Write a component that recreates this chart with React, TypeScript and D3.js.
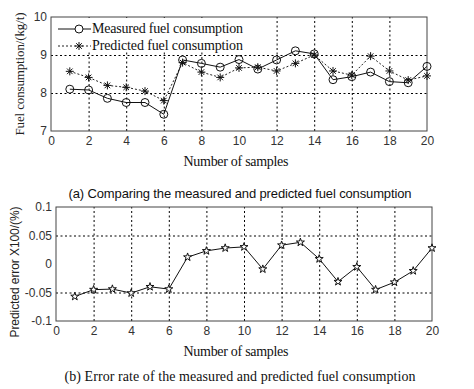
import React, { useEffect, useRef } from 'react';
import * as d3 from 'd3';

const samples = [1, 2, 3, 4, 5, 6, 7, 8, 9, 10, 11, 12, 13, 14, 15, 16, 17, 18, 19, 20];
const measured = [8.1, 8.08, 7.86, 7.75, 7.75, 7.44, 8.87, 8.78, 8.68, 8.88, 8.63, 8.87, 9.11, 9.03, 8.35, 8.43, 8.55, 8.3, 8.27, 8.7];
const predicted = [8.57, 8.41, 8.2, 8.15, 8.05, 7.8, 8.8, 8.55, 8.41, 8.66, 8.68, 8.58, 8.78, 9.0, 8.58, 8.47, 8.97, 8.58, 8.34, 8.45];
const errorRate = [-0.057, -0.045, -0.044, -0.051, -0.04, -0.044, 0.012, 0.023, 0.028, 0.03, -0.009, 0.033, 0.038, 0.009, -0.031, -0.005, -0.045, -0.032, -0.012, 0.028];

const xTicks = [0, 2, 4, 6, 8, 10, 12, 14, 16, 18, 20];
const fuelTicks = [7, 8, 9, 10];
const errTicks = [-0.1, -0.05, 0, 0.05, 0.1];

const SANS = '"Liberation Sans", Arial, sans-serif';
const SERIF = '"Liberation Serif", "Times New Roman", serif';

export default function App() {
  const ref = useRef<SVGSVGElement>(null);

  useEffect(() => {
    const svg = d3.select(ref.current);
    svg.selectAll('*').remove();

    const panel = (
      left: number, right: number, top: number, bottom: number,
      yDomain: [number, number], yTicks: number[], fmt: (d: number) => string
    ) => {
      const x = d3.scaleLinear().domain([0, 20]).range([left, right]);
      const y = d3.scaleLinear().domain(yDomain).range([bottom, top]);
      const g = svg.append('g');

      const xa = g.append('g').attr('transform', `translate(0,${bottom})`)
        .call(d3.axisBottom(x).tickValues(xTicks).tickSize(-(bottom - top)).tickPadding(5).tickFormat(d => String(d)));
      const ya = g.append('g').attr('transform', `translate(${left},0)`)
        .call(d3.axisLeft(y).tickValues(yTicks).tickSize(-(right - left)).tickPadding(4).tickFormat(d => fmt(+d)));
      [xa, ya].forEach(a => {
        a.select('.domain').remove();
        a.selectAll('line').attr('stroke', '#000').attr('stroke-dasharray', '2,2.5').attr('stroke-width', 1)
          .filter((d: any) => d === 0 || d === 20 || d === yDomain[0] || d === yDomain[1]).remove();
        a.selectAll('text').attr('font-family', SANS).attr('font-size', 12).attr('fill', '#333');
      });
      g.append('rect').attr('x', left).attr('y', top).attr('width', right - left).attr('height', bottom - top)
        .attr('fill', 'none').attr('stroke', '#444').attr('stroke-width', 1);
      return { x, y, g };
    };

    // (a) fuel consumption
    const a = panel(51, 427, 17, 131, [7, 10], fuelTicks, d => String(d));
    const lineA = d3.line<number>().x((_, i) => a.x(samples[i])).y(d => a.y(d));
    a.g.append('path').attr('d', lineA(predicted)).attr('fill', 'none').attr('stroke', '#222')
      .attr('stroke-width', 1).attr('stroke-dasharray', '2,2');
    a.g.append('path').attr('d', lineA(measured)).attr('fill', 'none').attr('stroke', '#111').attr('stroke-width', 1);

    const asterisk = (sel: any, cx: number, cy: number, r: number) => {
      const p = `M${cx - r},${cy}H${cx + r}M${cx},${cy - r}V${cy + r}` +
        `M${cx - r * 0.7},${cy - r * 0.7}L${cx + r * 0.7},${cy + r * 0.7}M${cx - r * 0.7},${cy + r * 0.7}L${cx + r * 0.7},${cy - r * 0.7}`;
      sel.append('path').attr('d', p).attr('stroke', '#111').attr('stroke-width', 1).attr('fill', 'none');
    };

    predicted.forEach((v, i) => asterisk(a.g, a.x(samples[i]), a.y(v), 4));
    a.g.selectAll('circle.m').data(measured).join('circle').attr('class', 'm')
      .attr('cx', (_, i) => a.x(samples[i])).attr('cy', d => a.y(d)).attr('r', 4)
      .attr('fill', 'none').attr('stroke', '#111').attr('stroke-width', 1);

    // legend (white box, no border, covers the grid)
    const lg = a.g.append('g');
    lg.append('rect').attr('x', 52).attr('y', 18).attr('width', 194).attr('height', 34).attr('fill', 'white');
    lg.append('line').attr('x1', 58).attr('x2', 91).attr('y1', 29).attr('y2', 29).attr('stroke', '#111');
    lg.append('circle').attr('cx', 79).attr('cy', 29).attr('r', 4).attr('fill', 'white').attr('stroke', '#111');
    lg.append('text').attr('x', 92).attr('y', 33).text('Measured fuel consumption')
      .attr('font-family', SERIF).attr('font-size', 14).attr('textLength', 151).attr('fill', '#111');
    lg.append('line').attr('x1', 58).attr('x2', 91).attr('y1', 46).attr('y2', 46).attr('stroke', '#222')
      .attr('stroke-dasharray', '2,2');
    asterisk(lg, 79, 46, 4);
    lg.append('text').attr('x', 92).attr('y', 50).text('Predicted fuel consumption')
      .attr('font-family', SERIF).attr('font-size', 14).attr('textLength', 151).attr('fill', '#111');

    svg.append('text').attr('transform', 'translate(24,74) rotate(-90)').attr('text-anchor', 'middle')
      .attr('font-family', SERIF).attr('font-size', 13).attr('fill', '#222').attr('textLength', 123)
      .text('Fuel consumption/(kg/t)');
    svg.append('text').attr('x', 236).attr('y', 166).attr('text-anchor', 'middle')
      .attr('font-family', SERIF).attr('font-size', 14).attr('fill', '#111').attr('textLength', 105)
      .text('Number of samples');
    svg.append('text').attr('x', 240).attr('y', 198).attr('text-anchor', 'middle')
      .attr('font-family', SANS).attr('font-size', 13).attr('fill', '#111').attr('textLength', 343)
      .text('(a)  Comparing the measured and predicted fuel consumption');

    // (b) error rate
    const b = panel(56, 432, 207, 321, [-0.1, 0.1], errTicks, d => String(d));
    const lineB = d3.line<number>().x((_, i) => b.x(samples[i])).y(d => b.y(d));
    b.g.append('path').attr('d', lineB(errorRate)).attr('fill', 'none').attr('stroke', '#111').attr('stroke-width', 1);
    const star = d3.symbol().type(d3.symbolStar).size(20);
    b.g.selectAll('path.s').data(errorRate).join('path').attr('class', 's')
      .attr('transform', (d, i) => `translate(${b.x(samples[i])},${b.y(d)})`)
      .attr('d', star()).attr('fill', 'white').attr('stroke', '#111').attr('stroke-width', 1);

    svg.append('text').attr('transform', 'translate(19,272) rotate(-90)').attr('text-anchor', 'middle')
      .attr('font-family', SANS).attr('font-size', 12).attr('fill', '#222').attr('textLength', 131)
      .text('Predicted error X100/(%)');
    svg.append('text').attr('x', 236).attr('y', 356).attr('text-anchor', 'middle')
      .attr('font-family', SERIF).attr('font-size', 14).attr('fill', '#111').attr('textLength', 105)
      .text('Number of samples');
    svg.append('text').attr('x', 240).attr('y', 381).attr('text-anchor', 'middle')
      .attr('font-family', SERIF).attr('font-size', 14).attr('fill', '#111').attr('textLength', 351)
      .text('(b) Error rate of the measured and predicted fuel consumption');
  }, []);

  return (
    <svg ref={ref} width={474} height={389}
      style={{ position: 'absolute', left: 0, top: 0, background: 'white' }} />
  );
}
